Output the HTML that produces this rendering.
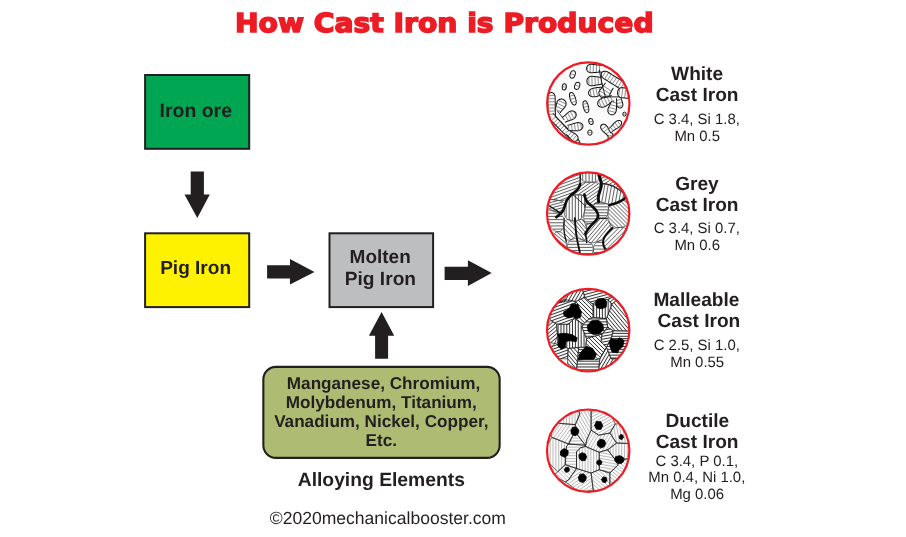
<!DOCTYPE html>
<html lang="en">
<head>
<meta charset="utf-8">
<title>How Cast Iron is Produced</title>
<style>
html,body{margin:0;padding:0;background:#fff;}
body{width:906px;height:537px;overflow:hidden;}
svg{display:block;will-change:transform;}
text{font-family:"Liberation Sans",sans-serif;fill:#231f20;text-rendering:geometricPrecision;}
.b{font-weight:bold;}
.t{font-family:"DejaVu Sans","Liberation Sans",sans-serif;font-weight:bold;fill:#ed1c24;stroke:#ed1c24;stroke-width:1.5px;stroke-linejoin:miter;}
.box{stroke:#231f20;stroke-width:2;}
.ar{fill:#231f20;}
.ring{fill:none;stroke:#ed1c24;stroke-width:2.2;}
</style>
</head>
<body>
<svg width="906" height="537" viewBox="0 0 906 537">
<rect width="906" height="537" fill="#fff"/>

<defs>
<filter id="soft" x="-5%" y="-5%" width="110%" height="110%"><feGaussianBlur stdDeviation="0.38"/></filter>
<clipPath id="cp1"><circle cx="588.3" cy="103.5" r="41.2"/></clipPath>
<clipPath id="cp2"><circle cx="588.2" cy="213.5" r="41.2"/></clipPath>
<clipPath id="cp3"><circle cx="588.2" cy="330.1" r="41.2"/></clipPath>
<clipPath id="cp4"><circle cx="588.2" cy="450.7" r="41.2"/></clipPath>
</defs>

<!-- title -->
<text class="t" x="444.3" y="31.7" font-size="26.2" text-anchor="middle" textLength="418.6" lengthAdjust="spacingAndGlyphs">How Cast Iron is Produced</text>

<!-- boxes -->
<rect class="box" x="145.1" y="75" width="104.1" height="73.8" fill="#00a651"/>
<text class="b" x="195.8" y="117.35" font-size="19.45" text-anchor="middle">Iron ore</text>

<rect class="box" x="145.1" y="233.3" width="104.1" height="73.8" fill="#fff200"/>
<text class="b" x="195.6" y="274.45" font-size="19.05" text-anchor="middle">Pig Iron</text>

<rect class="box" x="329.5" y="233.3" width="103.6" height="73.8" fill="#bcbec0"/>
<text class="b" x="380.2" y="263.2" font-size="19" text-anchor="middle">Molten</text>
<text class="b" x="380.4" y="284.6" font-size="19.15" text-anchor="middle">Pig Iron</text>

<rect class="box" x="263.35" y="366.85" width="236.3" height="91.05" rx="12.6" ry="12.6" fill="#adbc72" style="stroke-width:2.1"/>
<text class="b" x="383.5" y="389.3" font-size="17.15" text-anchor="middle">Manganese, Chromium,</text>
<text class="b" x="381.3" y="407.7" font-size="17.15" text-anchor="middle">Molybdenum, Titanium,</text>
<text class="b" x="381.3" y="426.6" font-size="17.15" text-anchor="middle">Vanadium, Nickel, Copper,</text>
<text class="b" x="381.3" y="446.1" font-size="17.15" text-anchor="middle">Etc.</text>

<text class="b" x="381.3" y="486.3" font-size="19.3" text-anchor="middle">Alloying Elements</text>
<text x="387.85" y="524.4" font-size="17.55" text-anchor="middle">©2020mechanicalbooster.com</text>

<!-- arrows -->
<polygon class="ar" points="190.7,171.5 203.9,171.5 203.9,194.6 209.8,194.6 197.3,217.9 184.5,194.6 190.7,194.6"/>
<polygon class="ar" points="267.1,265.2 290,265.2 290,259.1 314.5,271.9 290,284.6 290,278.4 267.1,278.4"/>
<polygon class="ar" points="444.6,266.7 467.9,266.7 467.9,260.2 491.7,273.1 467.9,285.9 467.9,279.9 444.6,279.9"/>
<polygon class="ar" points="381.6,312.1 394.2,335.7 388.1,335.7 388.1,358.8 375.1,358.8 375.1,335.7 368.9,335.7"/>

<!-- circles -->
<g id="c1"><g clip-path="url(#cp1)"><g filter="url(#soft)"><g transform="translate(543 58) scale(0.16760)"><rect width="537" height="537" fill="#fbfbfb"/><g transform="translate(177 98) rotate(18)"><ellipse rx="15" ry="23" fill="#fdfdfd" stroke="#101010" stroke-width="5.8"/><line x1="-14" y1="0" x2="14" y2="0" stroke="#4c4c4c" stroke-width="3.4"/></g><g transform="translate(127 172) rotate(8)"><ellipse rx="12" ry="19" fill="#fdfdfd" stroke="#101010" stroke-width="5.8"/><line x1="-11" y1="0" x2="11" y2="0" stroke="#4c4c4c" stroke-width="3.4"/></g><g transform="translate(204 166) rotate(18)"><ellipse rx="15" ry="22" fill="#fdfdfd" stroke="#101010" stroke-width="5.8"/><line x1="-14" y1="0" x2="14" y2="0" stroke="#4c4c4c" stroke-width="3.4"/></g><g transform="translate(178 243) rotate(-18)"><ellipse rx="16" ry="39" fill="#fdfdfd" stroke="#101010" stroke-width="5.8"/><line x1="-12.9" y1="-19.5" x2="12.9" y2="-19.5" stroke="#4c4c4c" stroke-width="3.4"/><line x1="-15" y1="0" x2="15" y2="0" stroke="#4c4c4c" stroke-width="3.4"/><line x1="-12.9" y1="19.5" x2="12.9" y2="19.5" stroke="#4c4c4c" stroke-width="3.4"/></g><g transform="translate(256 291) rotate(-14)"><ellipse rx="15" ry="36" fill="#fdfdfd" stroke="#101010" stroke-width="5.8"/><line x1="-12" y1="-18" x2="12" y2="-18" stroke="#4c4c4c" stroke-width="3.4"/><line x1="-14" y1="0" x2="14" y2="0" stroke="#4c4c4c" stroke-width="3.4"/><line x1="-12" y1="18" x2="12" y2="18" stroke="#4c4c4c" stroke-width="3.4"/></g><g transform="translate(286 379) rotate(-12)"><ellipse rx="13" ry="18" fill="#fdfdfd" stroke="#101010" stroke-width="5.8"/><line x1="-12" y1="0" x2="12" y2="0" stroke="#4c4c4c" stroke-width="3.4"/></g><g transform="translate(280 445) rotate(0)"><ellipse rx="13" ry="16" fill="#fdfdfd" stroke="#101010" stroke-width="5.8"/><line x1="-12" y1="0" x2="12" y2="0" stroke="#4c4c4c" stroke-width="3.4"/></g><g transform="translate(486 335) rotate(0)"><ellipse rx="10" ry="12" fill="#fdfdfd" stroke="#101010" stroke-width="5.8"/><line x1="-9" y1="0" x2="9" y2="0" stroke="#4c4c4c" stroke-width="3.4"/></g><path d="M517.8,219.5L505,211.5L492.1,203.5L479.3,195.5L466.4,187.5L453.6,179.5L440.7,171.5L427.8,163.5L415,155.5L402.1,147.5L389.3,139.5L376.4,131.5L364.8,124.3L363.6,123.5L359.8,120.7L355.4,116.4L352.5,112.6L351.9,111.7L349.3,106.7L347.8,101.7L347.4,96.8L348.1,92.1L350,88L352.9,84.5L356.7,81.8L361.3,80L366.5,79.1L372.1,79.2L373.2,79.4L377.9,80.3L383.7,82.4L387.9,84.5L389.2,85.3L400.7,92.5L413.6,100.5L426.4,108.5L439.3,116.5L452.2,124.5L465,132.5L477.9,140.5L490.7,148.5L503.6,156.5L516.4,164.5L529.3,172.5L542.2,180.5" fill="#fdfdfd" stroke="#101010" stroke-width="6" stroke-linejoin="round" stroke-linecap="round"/><path d="M354.3,112.5L373.9,81M368.4,124.8L391.1,88.3M384.1,134.6L406.8,98M399.8,144.3L422.6,107.8M415.5,154.1L438.3,117.6M431.2,163.9L454,127.4M447,173.7L469.7,137.1M462.7,183.4L485.4,146.9M478.4,193.2L501.1,156.7M494.1,203L516.8,166.5M509.8,212.7L532.5,176.2" fill="none" stroke="#4c4c4c" stroke-width="3.8"/><path d="M526.1,242.7L520,241.9L513.9,241.2L507.8,240.6L501.7,240L495.6,239.5L489.5,238.9L483.4,238.3L477.3,237.7L471.2,237L466.3,236.3L465.1,236.1L461.4,235L459.2,234L456.9,232.7L453.6,230L452.8,229.3L449.5,225.1L448.4,223.1L447,220.1L445.3,214.6L444.7,208.9L445,203L446.3,197.3L448.5,191.9L451.6,187.1L453.8,184.6L455.4,183L459.8,179.9L460.7,179.4L464.6,177.8L467.2,177.1L469.6,176.8L473.5,176.8L474.7,176.9L479.5,177.6L485.6,178.6L491.6,179.7L497.7,180.8L503.7,182L509.7,183.1L515.8,184.3L521.8,185.3L527.9,186.4L533.9,187.3" fill="#fdfdfd" stroke="#101010" stroke-width="6" stroke-linejoin="round" stroke-linecap="round"/><path d="M451.4,225.1L457.3,183.6M468.7,235.1L476.6,178.7M487.1,237.2L494.9,181.8M505.5,238.9L513.1,185.3M523.9,240.9L531.3,188.4" fill="none" stroke="#4c4c4c" stroke-width="3.8"/><path d="M347.5,84L341.3,84L335,84.2L328.7,84.7L322.4,85.2L316.1,85.9L309.8,86.5L303.5,87L297.2,87.4L290.9,87.6L285.8,87.6L284.6,87.5L280.7,87L278.3,86.4L275.8,85.5L272.1,83.6L271.3,83L267.3,79.8L265.9,78.3L264.1,76L261.8,71.6L260.4,66.9L260,62L260.6,57.1L262.2,52.5L264.8,48.2L266.7,46L268.1,44.5L272.2,41.5L273.1,41L276.8,39.3L279.4,38.5L281.8,38L285.7,37.6L287,37.6L292,37.8L298.3,38.3L304.5,39L310.8,39.8L317.1,40.7L323.4,41.6L329.6,42.5L335.9,43.2L342.2,43.7L348.5,44" fill="#fdfdfd" stroke="#101010" stroke-width="6" stroke-linejoin="round" stroke-linecap="round"/><path d="M262.9,70L263.2,54.1M281,85.5L282.1,39.5M299.5,85.8L300.6,40.1M318.1,84.2L319,42.5M336.6,82.7L337.5,44.8" fill="none" stroke="#4c4c4c" stroke-width="3.8"/><path d="M352.5,157L346,157.3L339.6,158L333.2,159L326.8,160.1L320.4,161.3L314,162.5L307.6,163.6L301.2,164.5L294.8,165.1L289.6,165.4L288.3,165.4L284.3,165L281.9,164.4L279.2,163.5L275.4,161.6L274.5,161L270.3,157.6L268.8,156L266.9,153.5L264.3,148.7L262.6,143.4L262,138L262.4,132.5L263.8,127.2L266.2,122.3L268,119.7L269.5,118L273.5,114.5L274.3,113.9L278.1,111.8L280.7,110.7L283.1,110.1L287.1,109.5L288.4,109.4L293.5,109.4L300,109.8L306.4,110.4L312.9,111.2L319.3,112.1L325.8,113L332.2,113.9L338.7,114.5L345.1,114.9L351.5,115" fill="#fdfdfd" stroke="#101010" stroke-width="6" stroke-linejoin="round" stroke-linecap="round"/><path d="M274.4,159L273.4,116.5M293,163.7L291.8,110.9M311.4,161.4L310.4,112.4M329.9,158.1L328.9,115M348.3,155.7L347.5,116.5" fill="none" stroke="#4c4c4c" stroke-width="3.8"/><path d="M388.8,209.6L380.8,211.4L372.8,213.4L364.9,215.7L357,218.1L349.1,220.5L341.2,223L333.2,225.4L325.3,227.6L317.3,229.6L310.9,230.9L309.2,231.2L304.2,231.7L301,231.7L297.5,231.5L292.4,230.6L291.2,230.3L285.4,228.1L283.3,227L280.5,225.1L276.5,221.3L273.6,216.9L272,212L272,212L272,212L271.7,206.9L272.7,201.7L275,196.7L276.9,193.9L278.4,192L282.9,187.8L283.9,187.1L288.3,184.3L291.5,182.8L294.4,181.7L299.3,180.2L300.9,179.9L307.4,178.7L315.6,177.6L323.8,176.6L332,175.9L340.2,175.2L348.5,174.5L356.7,173.8L364.9,172.9L373.1,171.8L381.2,170.4" fill="#fdfdfd" stroke="#101010" stroke-width="6" stroke-linejoin="round" stroke-linecap="round"/><path d="M287.5,227.3L280.6,192M306.9,229.9L297.6,182.3M325,226.1L315.8,179.1M342.8,220.9L334.3,177.2M360.6,215.4L352.8,175.6M378.5,210.4L371.3,173.5" fill="none" stroke="#4c4c4c" stroke-width="3.8"/><path d="M418.6,180.1L415.4,185.2L412.5,190.4L409.7,195.6L406.9,200.9L404.2,206.3L401.5,211.6L398.8,216.9L395.9,222.1L392.9,227.3L390.4,231.3L389.7,232.3L387.3,235.1L385.4,236.6L383.2,238L379.4,239.7L378.4,240.1L373,241.1L370.6,241.2L367.2,241.1L361.3,240L355.5,238L350,235L345,231.2L340.7,226.8L337.3,221.8L335.8,218.8L334.9,216.6L333.6,211.3L333.5,210.3L333.5,206L333.8,203.4L334.5,201.1L336,197.7L336.6,196.7L339.2,192.7L342.7,187.9L346.2,183.1L349.9,178.4L353.6,173.7L357.4,169.1L361.1,164.4L364.7,159.6L368.1,154.8L371.4,149.9" fill="#fdfdfd" stroke="#101010" stroke-width="6" stroke-linejoin="round" stroke-linecap="round"/><path d="M372.2,239.6L336.6,216.7M390,229.1L338.8,196.1M399.1,212.9L349.7,181.1M407.6,196.4L361.2,166.6" fill="none" stroke="#4c4c4c" stroke-width="3.8"/><path d="M422.5,256.4L416.4,259.5L410.5,263L404.7,266.8L399,270.8L393.4,274.8L387.7,278.8L381.9,282.6L376,286.2L369.9,289.3L369.3,289.6L363.5,291.8L363.2,291.9L356.8,293.2L356.7,293.2L350.6,293.4L349.2,293.3L344.6,292.6L340.8,291.4L339.2,290.8L334.5,288L330.7,284.3L328,280L326.5,275.1L326.2,269.9L327.1,264.5L327.6,262.8L329.2,259.2L331.7,255.2L332.5,254.1L336.6,249.7L336.8,249.5L341.9,245.6L342.2,245.4L347.6,242.4L348.2,242.1L354.6,239.5L361.1,237.4L367.8,235.5L374.5,233.8L381.3,232.1L388,230.4L394.6,228.5L401.2,226.3L407.5,223.6" fill="#fdfdfd" stroke="#101010" stroke-width="6" stroke-linejoin="round" stroke-linecap="round"/><path d="M348.6,291.7L332.5,256.7M367.6,288.7L347.2,244.3M383.8,279.6L364.6,237.9M399.2,268.8L382.8,233.2M414.8,258.6L400.7,228" fill="none" stroke="#4c4c4c" stroke-width="3.8"/><path d="M441.4,266.3L440.3,271.8L439.5,277.4L439.1,283.1L438.9,288.9L438.7,294.6L438.5,300.4L438.1,306.1L437.4,311.7L436.3,317.2L436.2,317.8L434.5,322.5L434.3,322.8L431.7,327.5L431.6,327.6L428.2,331.5L427.3,332.3L424.1,334.7L421.1,336.4L419.6,337.1L414.8,338.4L409.9,338.7L405,338L400.4,336.2L396.3,333.5L392.7,330L391.8,328.7L390,325.7L388.4,322L388,320.9L387,315.8L387,315.7L386.9,310.3L386.9,310L387.8,305L388,304.5L389.7,299.1L391.9,293.9L394.3,288.8L397,283.6L399.7,278.6L402.3,273.4L404.7,268.3L406.9,263L408.6,257.7" fill="#fdfdfd" stroke="#101010" stroke-width="6" stroke-linejoin="round" stroke-linecap="round"/><path d="M431.6,324.6L388.5,313.2M436.5,306.7L392.9,295.3M437.4,287.9L401.4,278.4M439.3,269.2L409,261.2" fill="none" stroke="#4c4c4c" stroke-width="3.8"/><path d="M465.8,237.6L466.6,241.7L467.7,245.8L468.9,249.9L470.3,253.9L471.6,257.9L473,262L474.2,266L475.3,270.1L476.2,274.2L476.2,274.6L476.6,278.4L476.6,278.7L476.2,282.6L476.2,282.8L475.2,286.4L474.9,287.2L473.5,289.9L472,292L471.3,292.9L468.5,295.3L465.4,297L462,298L458.5,298.2L454.9,297.6L451.6,296.3L450.5,295.7L448.4,294.2L446.3,292.2L445.7,291.5L443.5,288.4L443.5,288.3L441.8,284.7L441.7,284.4L440.8,280.8L440.7,280.3L440.1,276.2L439.8,272L439.6,267.7L439.5,263.5L439.4,259.2L439.3,255L439.1,250.7L438.8,246.5L438.2,242.4" fill="#fdfdfd" stroke="#101010" stroke-width="6" stroke-linejoin="round" stroke-linecap="round"/><path d="M474.3,284.2L445.8,289.1M472.5,265.7L441.3,271.1M466.8,247.9L440.7,252.4" fill="none" stroke="#4c4c4c" stroke-width="3.8"/><path d="M336,73L352,153M359,232L455,232M352,153L372,232" fill="none" stroke="#101010" stroke-width="5.5" stroke-linecap="round"/><path d="M12.7,287.3L28.4,303L44.2,318.7L59.9,334.4L75.6,350.1L91.3,365.8L107,381.6L122.7,397.3L138.4,413L154.2,428.7L169.9,444.4L185.6,460.1L199.7,474.3L201.3,475.9L205.9,481L211.4,487.9L215.1,493.4L215.9,494.8L219.3,501.3L221.5,507.4L222.4,512.6L221.8,516.9L220,520L220,520L220,520L216.9,521.8L212.6,522.4L207.4,521.5L201.3,519.3L194.8,515.9L193.4,515.1L187.9,511.4L181,505.9L175.9,501.3L174.3,499.7L160.1,485.6L144.4,469.9L128.7,454.2L113,438.4L97.3,422.7L81.6,407L65.8,391.3L50.1,375.6L34.4,359.9L18.7,344.2L3,328.4L-12.7,312.7" fill="#fdfdfd" stroke="#101010" stroke-width="6" stroke-linejoin="round" stroke-linecap="round"/><path d="M215.8,497.7L197.7,515.8M205,482.3L182.3,505M192.2,468.9L168.9,492.2M179.2,455.8L155.8,479.2M166.1,442.7L142.7,466.1M153,429.7L129.7,453M139.9,416.6L116.6,439.9M126.8,403.5L103.5,426.8M113.7,390.4L90.4,413.7M100.7,377.3L77.3,400.7M87.6,364.2L64.2,387.6M74.5,351.2L51.2,374.5M61.4,338.1L38.1,361.4M48.3,325L25,348.3M35.3,311.9L11.9,335.3M22.2,298.8L-1.2,322.2" fill="none" stroke="#4c4c4c" stroke-width="3.8"/><path d="M30,350.3L29.9,340L29.7,329.7L29.6,319.4L29.4,309.2L29.3,298.9L29.1,288.6L29,278.3L28.9,268L28.7,257.7L28.6,247.4L28.4,237.2L28.4,235.1L28.7,229.5L29.2,226.9L29.9,224.1L31.9,219.1L33.3,216.5L34.6,214.7L37.8,211L41.6,208.3L45.7,206.6L50,206L54.3,206.5L58.4,208.1L62.3,210.7L65.7,214.2L67,216.1L68.5,218.5L70.6,223.5L71.4,226.3L71.9,228.9L72.4,234.5L72.4,236.6L72.6,246.8L72.7,257.1L72.9,267.4L73,277.7L73.1,288L73.3,298.3L73.4,308.6L73.6,318.8L73.7,329.1L73.9,339.4L74,349.7" fill="#fdfdfd" stroke="#101010" stroke-width="6" stroke-linejoin="round" stroke-linecap="round"/><path d="M31.3,224.7L69.2,224.1M30,243.2L71,242.6M30.3,261.7L71.3,261.1M30.5,280.2L71.5,279.6M30.8,298.7L71.8,298.1M31,317.2L72,316.6M31.3,335.7L72.3,335.1" fill="none" stroke="#4c4c4c" stroke-width="3.8"/><path d="M71.8,310.1L73.9,305L75.6,299.6L76.8,294L77.8,288.3L78.8,282.6L79.8,276.9L81,271.4L82.6,265.9L84.7,260.8L84.9,260.3L87.5,256L87.7,255.7L91.4,251.8L91.5,251.7L95.8,248.7L96.8,248.1L100.7,246.5L104.3,245.6L106,245.3L111.5,245.2L116.9,246.1L122,248L126.7,250.9L130.7,254.5L134,258.9L134.8,260.4L136.3,263.8L137.4,267.9L137.7,269.1L137.9,274.3L137.9,274.4L137.1,279.7L137,280L135.3,284.7L135,285.2L132.3,290.1L129,294.6L125.3,299.1L121.5,303.4L117.6,307.7L113.8,312L110.2,316.4L106.9,321L104.2,325.9" fill="#fdfdfd" stroke="#101010" stroke-width="6" stroke-linejoin="round" stroke-linecap="round"/><path d="M92.3,253L136.4,274.4M83.2,269.2L129.3,291.6M79.4,287.9L117,306.1M75,306.3L105.2,321" fill="none" stroke="#4c4c4c" stroke-width="3.8"/><path d="M116.4,353.3L121.3,350.2L125.9,346.6L130.4,342.8L134.8,338.8L139.1,334.7L143.5,330.7L147.9,326.9L152.5,323.3L157.4,320.1L157.9,319.8L162.6,317.5L162.9,317.4L168.2,315.9L168.4,315.9L173.6,315.4L174.8,315.5L178.9,315.9L182.4,316.9L183.9,317.4L188.3,319.8L192.1,323.1L195,327L197,331.5L198,336.3L197.9,341.4L197.6,343L196.8,346.5L195.2,350.2L194.6,351.3L191.6,355.7L191.5,355.8L187.7,359.7L187.4,359.9L183.1,362.9L182.6,363.2L177.5,365.9L172.1,368.1L166.5,370.1L160.9,372L155.2,373.8L149.6,375.6L144.1,377.7L138.7,380L133.6,382.7" fill="#fdfdfd" stroke="#101010" stroke-width="6" stroke-linejoin="round" stroke-linecap="round"/><path d="M183.6,319L196.4,340.9M162.3,319.3L185.7,359.3M146.9,329.7L169.2,367.6M133,342.4L151.2,373.5" fill="none" stroke="#4c4c4c" stroke-width="3.8"/><path d="M147.5,401.2L153.8,400L160,398.5L166.1,396.6L172.2,394.6L178.4,392.6L184.5,390.5L190.6,388.7L196.8,387.1L203.1,385.9L203.7,385.8L209.4,385.4L209.8,385.4L215.7,385.9L215.9,385.9L221.4,387.3L222.6,387.7L226.5,389.5L229.6,391.6L230.9,392.6L234.3,396.3L236.7,400.5L238,405L238.1,409.7L237,414.4L234.8,419L233.8,420.3L231.5,423.1L228.3,426L227.2,426.8L222.4,429.7L222.2,429.7L216.6,431.9L216.3,432.1L210.7,433.3L210.1,433.4L203.8,434L197.4,434.3L190.9,434.3L184.5,434.1L178,433.9L171.6,433.8L165.2,433.8L158.8,434.1L152.5,434.8" fill="#fdfdfd" stroke="#101010" stroke-width="6" stroke-linejoin="round" stroke-linecap="round"/><path d="M224.8,390.4L229.6,422.8M205.6,387.2L212.1,431.4M187.5,391.2L193.6,432.8M169.6,397.1L174.9,432.4M151.7,401.9L156.2,432.9" fill="none" stroke="#4c4c4c" stroke-width="3.8"/><path d="M160.1,432.6L164.2,435.7L168.4,438.6L172.7,441.3L177.1,443.9L181.6,446.5L186,449.1L190.4,451.8L194.6,454.6L198.7,457.7L199,458L202.4,461.2L202.5,461.4L205.4,465.3L205.5,465.4L207.5,469.5L207.9,470.5L208.8,473.9L209.1,476.9L209.1,478.3L208.6,482.6L207.2,486.5L205,490L202,492.9L198.4,495L194.4,496.4L193,496.6L190,496.9L186.4,496.7L185.4,496.5L181,495.3L180.8,495.3L176.5,493.3L176.2,493.1L172.5,490.5L172.1,490.2L168.3,486.8L164.6,483.2L161.1,479.5L157.7,475.7L154.3,471.8L150.8,468L147.3,464.3L143.7,460.7L139.9,457.4" fill="#fdfdfd" stroke="#101010" stroke-width="6" stroke-linejoin="round" stroke-linecap="round"/><path d="M207.2,482L197.6,493.7M200.3,461.3L175.9,491.1M185.3,450.4L162.3,478.5M169.2,440.8L149.7,464.6" fill="none" stroke="#4c4c4c" stroke-width="3.8"/><path d="M60,330L150,430M88,318L125,368" fill="none" stroke="#101010" stroke-width="5" stroke-linecap="round"/><path d="M395.1,522L394.4,516.6L393.7,511.3L393,505.9L392.3,500.6L391.6,495.2L390.8,489.8L390.1,484.5L389.4,479.1L388.7,473.8L388,468.4L387.3,463.1L387.1,462L387,459L387.2,457.6L387.5,456.1L388.5,453.3L389.3,451.9L390.1,450.8L392.1,448.6L394.5,446.9L397.1,445.7L400,445L402.9,444.9L405.8,445.4L408.6,446.4L411.1,448L412.1,448.8L413.3,450L415,452.4L415.7,453.8L416.2,455.1L416.9,458L417,459.1L417.7,464.4L418.4,469.8L419.2,475.2L419.9,480.5L420.6,485.9L421.3,491.2L422,496.6L422.7,501.9L423.4,507.3L424.2,512.7L424.9,518" fill="#fdfdfd" stroke="#101010" stroke-width="6" stroke-linejoin="round" stroke-linecap="round"/><path d="M389.2,466.3L416,462.7M391.7,484.6L418.4,481.1M394.1,503L420.9,499.4" fill="none" stroke="#4c4c4c" stroke-width="3.8"/><path d="M384.8,463.1L381.4,459.1L377.8,455.4L374,451.8L370,448.3L366,444.8L362.1,441.3L358.2,437.8L354.6,434.1L351.2,430.1L350.8,429.7L348.2,425.9L348.1,425.6L345.9,421.2L345.9,421.1L344.6,416.7L344.4,415.6L344.1,412.2L344.2,409.2L344.4,407.9L345.5,404L347.4,400.7L350,398L353.2,396.1L356.9,395L360.9,394.8L362.2,394.9L365.2,395.5L368.4,396.7L369.4,397.1L373.4,399.4L373.5,399.4L377.3,402.5L377.5,402.7L380.7,406.2L381,406.6L384,410.8L386.8,415.2L389.4,419.8L391.8,424.5L394.3,429.1L396.8,433.8L399.4,438.3L402.1,442.7L405.2,446.9" fill="#fdfdfd" stroke="#101010" stroke-width="6" stroke-linejoin="round" stroke-linecap="round"/><path d="M346.1,407.2L359.8,396.4M350.8,427L378.1,405.5M363.5,440.6L388.3,421M377.5,453.1L397.2,437.6" fill="none" stroke="#4c4c4c" stroke-width="3.8"/><path d="M396.8,417.9L401,414.2L405,410.2L408.9,406.1L412.6,401.8L416.4,397.4L420.1,393.1L424,388.9L428,384.9L432.2,381.2L432.6,380.8L436.7,377.8L437,377.7L441.7,375.2L441.8,375.2L446.5,373.6L447.6,373.3L451.2,372.7L454.4,372.7L455.7,372.8L459.8,373.7L463.2,375.5L466,378L467.9,381.2L469,385L469.1,389.1L468.9,390.5L468.3,393.5L467,397L466.5,398L464,402.3L463.9,402.4L460.6,406.5L460.4,406.7L456.7,410.2L456.3,410.5L451.7,413.9L447,417.1L442.2,420L437.2,422.9L432.2,425.7L427.3,428.5L422.4,431.5L417.7,434.6L413.2,438.1" fill="#fdfdfd" stroke="#101010" stroke-width="6" stroke-linejoin="round" stroke-linecap="round"/><path d="M443.8,376.1L463.5,400.2M428.5,386.6L450.2,413.1M415.8,400.3L434.2,422.8M403.2,414.1L418.3,432.5" fill="none" stroke="#4c4c4c" stroke-width="3.8"/></g></g></g><circle class="ring" cx="588.3" cy="103.5" r="41.2"/></g>
<g id="c2"><g clip-path="url(#cp2)"><g filter="url(#soft)"><g transform="translate(543 168) scale(0.16760)"><rect width="537" height="537" fill="#fafafa"/><path d="M121.8,73.4L216.9,38.8M87.5,104.5L219.5,56.4M66.7,130.7L219.3,75.1M52,154.7L218.8,93.9M41.4,177.1L210.1,115.7M65.7,186.9L180.2,145.2M103.5,191.8L151.7,174.2M333,33.7L333,71.3M313.8,27.8L313.8,79.5M294.5,25.1L294.5,82M275.2,24L275.2,82.1M256,25L256,80M236.7,31.7L236.8,73.3M218.6,112.2L252,88.9M183,157.5L282.9,87.5M212,157.5L309.6,89.2M236.1,160.9L330.5,94.8M250.5,171.1L339.9,108.5M256.9,186.9L336.5,131.2M265.6,201.1L329.3,156.6M278.2,212.6L325.7,179.3M302.6,215.8L321.1,202.8M248.3,177.5L248.3,238.9M229.9,164.2L229.9,296.1M211.5,162.5L211.5,308.5M193.2,162.5L193.2,312.2M174.8,162.5L174.8,311.2M156.4,176.5L156.4,306.5M138,202.7L138,294.6M257.2,215.9L274,215.9M254.3,233.4L294,233.4M251.3,250.9L309.9,250.9M248.3,268.4L321,268.4M245.9,285.9L324.3,285.9M245.5,303.4L317.8,303.4M249.8,320.9L300.7,320.9M35.9,191.8L43.9,189.7M30.5,209.9L86.2,195M26.6,227.6L116.1,203.7M38.9,241L127.3,217.3M59.6,252.1L124,234.9M88.2,261.1L115.7,253.8M22.7,270L87.8,270M23.3,288.9L115.5,288.9M25.4,307.8L121.2,307.8M33.3,326.7L121.8,326.7M44,345.6L120.1,345.6M59.5,364.5L113.9,364.5M332.6,188.7L342.6,132.4M350.7,202L368.9,99.1M370,208.6L389.2,99.5M389.7,212.5L408.9,104.1M410,213.4L427.8,112.6M431,210.4L446,125.1M452.6,203.7L463.7,140.6M475.4,190.1L480.7,160.3M348.9,42.6L355.2,38.9M347.6,63.5L375.6,47.4M349.1,82.9L394,57M368.6,91.8L410.7,67.5M396.9,95.7L425.9,78.9M419.5,102.9L439.9,91.1M437.4,112.7L452.6,104M452.8,124L464.2,117.5M468.4,135.2L474.6,131.7M483.6,193.3L501.7,211.5M468,201.7L516.8,250.6M451.7,209.4L517.8,275.6M433.3,215L516.4,298.2M414.1,219.9L513.3,319.1M397.8,227.6L504.1,333.9M392.3,246.1L490.3,344.1M390,267.8L472.3,350.1M390.6,292.4L450.6,352.4M399.5,325.3L422.6,348.4M316.2,214.3L370.7,214.3M305,231.8L390.1,231.8M315,249.3L386.8,249.3M325.7,266.8L385.1,266.8M329.7,284.3L380.7,284.3M159.6,313L190.2,343.6M134.8,315.5L193.5,374.1M126.9,334.8L192,399.9M125.2,360.3L180.8,416M127.6,389.9L163.4,425.7M233.7,309L243.9,321.1M215.1,312.7L260.6,366.9M200.3,321L254.8,385.8M194.8,340.3L253.3,410M198.1,370L247.1,428.5M159.1,437L248.9,437M149.1,455.4L290.1,455.4M147,473.8L296.3,473.8M158,492.2L297.1,492.2M205.7,510.5L289.7,510.5M259.3,344.7L266.7,335.9M265.6,364.4L293.9,330.7M257.9,400.8L338.9,304.2M261.1,424.2L362.7,303.1M271.8,438.6L380,309.7M290.3,443.8L391.9,322.7M316.4,439.9L399.9,340.4M356,420L368.5,405M84,383.3L131.3,423M69.8,392.4L137.2,449M64.2,408.8L141,473.2M369.3,413.7L417.2,365.8M361.7,448L451.6,358.1M367.2,469.3L478.8,357.7M380.8,482.4L495.5,367.7M425.5,464.4L463.2,426.7M323.9,443.8L356.5,443.8M307.1,463.9L359.3,463.9M302.9,484.1L374.8,484.1M305.7,504.2L354.9,504.2" fill="none" stroke="#505050" stroke-width="5.3"/><path d="M30,187.5Q20,190 40,140Q60,90 105,55Q150,20 186,20Q222,20 222,52.5Q222,85 221,99Q220,113 193.5,136.5Q167,160 150,180Q133,200 86.5,192.5Q40,185 30,187.5ZM222,52.5Q222,20 283.5,20Q345,20 345,52.5Q345,85 283.5,85Q222,85 222,52.5ZM221,99Q222,85 283.5,85Q345,85 342.5,109Q340,133 333,153Q326,173 329,186.5Q332,200 312.5,213.5Q293,227 275,213.5Q257,200 252,180Q247,160 213.5,160Q180,160 173.5,160Q167,160 193.5,136.5Q220,113 221,99ZM173.5,160Q180,160 213.5,160Q247,160 252,180Q257,200 255,213.5Q253,227 246.5,263.5Q240,300 215,310Q190,320 158.5,310Q127,300 127,270Q127,240 130,220Q133,200 150,180Q167,160 173.5,160ZM246.5,263.5Q253,227 255,213.5Q257,200 275,213.5Q293,227 310,247Q327,267 327,283.5Q327,300 310,316.5Q293,333 271.5,333Q250,333 245,316.5Q240,300 246.5,263.5ZM20,215Q20,190 30,187.5Q40,185 86.5,192.5Q133,200 130,220Q127,240 117,256.5Q107,273 63.5,256.5Q20,240 20,215ZM15,270Q15,240 61,256.5Q107,273 117,286.5Q127,300 123.5,340Q120,380 90,380Q60,380 37.5,340Q15,300 15,270ZM346,113Q352,93 386,96.5Q420,100 450,125Q480,150 486,165Q492,180 475.5,193.5Q459,207 429,213.5Q399,220 365.5,210Q332,200 329,186.5Q326,173 333,153Q340,133 346,113ZM345,52.5Q345,20 382.5,30Q420,40 460,85Q500,130 490,140Q480,150 450,125Q420,100 386,96.5Q352,93 348.5,89Q345,85 345,52.5ZM394.5,227.5Q399,220 429,213.5Q459,207 475.5,193.5Q492,180 511,225Q530,270 520,310Q510,350 461,354.5Q412,359 398.5,329.5Q385,300 387.5,267.5Q390,235 394.5,227.5ZM312.5,213.5Q332,200 365.5,210Q399,220 394.5,227.5Q390,235 387.5,267.5Q385,300 356,300Q327,300 327,283.5Q327,267 310,247Q293,227 312.5,213.5ZM123.5,340Q127,300 158.5,310Q190,320 191.5,333Q193,346 196.5,379Q200,412 170,426Q140,440 130,410Q120,380 123.5,340ZM191.5,333Q190,320 215,310Q240,300 245,316.5Q250,333 258.5,349.5Q267,366 260,379Q253,392 256.5,416Q260,440 230,426Q200,412 196.5,379Q193,346 191.5,333ZM145,485Q140,440 170,426Q200,412 230,426Q260,440 280,445Q300,450 300,490Q300,530 225,530Q150,530 145,485ZM271.5,333Q293,333 310,316.5Q327,300 356,300Q385,300 398.5,329.5Q412,359 395.5,375.5Q379,392 369,409Q359,426 329.5,438Q300,450 280,445Q260,440 256.5,416Q253,392 260,379Q267,366 258.5,349.5Q250,333 271.5,333ZM60,425Q60,380 90,380Q120,380 130,410Q140,440 145,485Q150,530 105,500Q60,470 60,425ZM395.5,375.5Q412,359 461,354.5Q510,350 500,395Q490,440 455,475Q420,510 394.5,494.5Q369,479 364,469Q359,459 359,442.5Q359,426 369,409Q379,392 395.5,375.5ZM300,490Q300,450 329.5,438Q359,426 359,442.5Q359,459 364,469Q369,479 394.5,494.5Q420,510 360,520Q300,530 300,490Z" fill="none" stroke="#2a2a2a" stroke-width="3.6" stroke-linejoin="round"/><path d="M222,98Q215,125 191,142.5Q167,160 152.5,177.5Q138,195 132.5,217.5Q127,240 118.5,255Q110,270 80,293" fill="none" stroke="#0c0c0c" stroke-width="16" stroke-linecap="round" stroke-linejoin="round"/><path d="M247,158Q254,198 273.5,212.5Q293,227 310,244.5Q327,262 328.5,281Q330,300 313.5,316.5Q297,333 283.5,346.5Q270,360 253,392" fill="none" stroke="#0c0c0c" stroke-width="16" stroke-linecap="round" stroke-linejoin="round"/><path d="M333,42Q352,90 347,111.5Q342,133 334,153Q326,173 332,202" fill="none" stroke="#0c0c0c" stroke-width="18" stroke-linecap="round" stroke-linejoin="round"/><path d="M395,222Q459,207 495,176" fill="none" stroke="#0c0c0c" stroke-width="14" stroke-linecap="round" stroke-linejoin="round"/><path d="M190,299Q193,346 196.5,379Q200,412 206.5,442Q213,472 220,505" fill="none" stroke="#0c0c0c" stroke-width="11" stroke-linecap="round" stroke-linejoin="round"/><path d="M415,357Q379,392 369,409Q359,426 358.5,442.5Q358,459 370,482" fill="none" stroke="#0c0c0c" stroke-width="12" stroke-linecap="round" stroke-linejoin="round"/><path d="M40,228Q80,250 107,273" fill="none" stroke="#0c0c0c" stroke-width="8" stroke-linecap="round" stroke-linejoin="round"/><path d="M253,392Q262,420 260,445" fill="none" stroke="#0c0c0c" stroke-width="8" stroke-linecap="round" stroke-linejoin="round"/><path d="M330,300L385,300" fill="none" stroke="#0c0c0c" stroke-width="6" stroke-linecap="round" stroke-linejoin="round"/><path d="M352,90Q420,100 480,150" fill="none" stroke="#0c0c0c" stroke-width="5" stroke-linecap="round" stroke-linejoin="round"/><path d="M222,40L222,98" fill="none" stroke="#0c0c0c" stroke-width="7" stroke-linecap="round" stroke-linejoin="round"/><path d="M127,300Q120,380 140,440" fill="none" stroke="#0c0c0c" stroke-width="6" stroke-linecap="round" stroke-linejoin="round"/><path d="M180,160L253,227" fill="none" stroke="#0c0c0c" stroke-width="5" stroke-linecap="round" stroke-linejoin="round"/></g></g></g><circle class="ring" cx="588.2" cy="213.5" r="41.2"/></g>
<g id="c3"><g clip-path="url(#cp3)"><g filter="url(#soft)"><g transform="translate(543 285) scale(0.16760)"><rect width="537" height="537" fill="#fafafa"/><path d="M105,105.4L111.2,94.7M127.2,101.4L155.7,52M149.4,97.3L182.5,40M171.6,93.2L206.9,32.1M188.5,98.4L229.6,27.3M213,90.4L240.4,43M240.3,77.5L247.5,65.1M240,41.7L299.8,25.7M245.2,58.1L337.8,33.3M251.4,74.3L366.6,43.4M266.4,88L390.2,54.9M281.4,101.8L321.9,91M336.7,87L410.3,67.3M82.4,110.3L141.3,88.9M63.4,135.5L176.7,94.3M49.9,158.8L192.6,106.8M40,180.7L191.5,125.5M39.6,199.1L190.3,144.2M50.3,213.5L189.2,163M68.3,225.3L188.1,181.7M96.1,233.5L186.4,200.6M142.7,234.8L154.9,230.4M243.9,75.8L299,130.9M227.3,83.6L299,155.3M210.8,91.4L299,179.6M194.4,99.3L290.9,195.8M191.7,121L274.5,203.8M190.4,143.9L261.4,214.9M189,166.9L248.2,226.1M187.6,189.8L215.6,217.8M406,107L406,128.7M388.8,89.8L388.8,174.1M371.6,87L371.6,200M354.4,87L354.4,198.8M337.2,87L337.2,197M320,92.7L320,195.2M302.8,109.3L302.8,193.4M436,93.3L490.3,157.9M422.7,104.2L509.5,207.6M410.7,116.5L516.2,242.3M403.7,135L517.9,271.1M396.7,153.4L498.4,274.6M389.7,171.8L475.5,274.1M382.7,190.2L452.7,273.7M381,214.9L429.9,273.2M385.2,246.7L395.1,258.5M388.2,89.2L397.8,81.1M400.4,101.4L426.6,79.4M275.7,202.8L379.4,202.8M255.4,220L381.6,220M238.3,237.2L383.9,237.2M232.6,254.4L384.8,254.4M239.8,271.6L370.2,271.6M246.9,288.8L355.6,288.8M254.1,306L304.7,306M23.6,250.2L59.9,219.8M22.7,273.4L74.9,229.6M23.8,294.9L81.4,246.6M26.6,315L83.6,267.2M30.7,334L85.7,287.9M45.7,343.9L82.6,312.9M66.3,349.1L71.9,344.4M245,284.1L245,372M227.8,225.4L227.8,372M210.6,214.7L210.6,372.3M193.4,204L193.4,374.2M176.2,210.2L176.2,376.1M159,226.5L159,378M141.8,234.8L141.8,374.7M124.6,234.3L124.6,365.7M107.4,233.8L107.4,356.7M90.2,233.3L90.2,347.7M52.6,367.4L97,351.3M51,386.3L117.7,362.1M61,401L138.3,372.9M74.4,414.4L149.6,387M87.8,427.8L148.7,405.7M104.7,440L147.8,424.3M203.4,373.1L212,383.3M182.9,375.3L209.9,407.5M162.3,377.6L207.7,431.7M149.5,389.1L205.2,455.5M148.3,414.4L202.5,479M147,439.7L195.5,497.5M147,466.4L152.7,473.2M211.8,385.7L265.7,385.7M210.3,402.9L279.2,402.9M208.8,420.1L292.7,420.1M207.2,437.3L306.2,437.3M205.3,454.5L337.5,454.5M203.3,471.7L335.8,471.7M201.3,488.9L334.1,488.9M218.3,506.1L332.4,506.1M349.1,293.8L351.6,296.3M330,299L348.8,317.9M310.9,304.3L346.1,339.4M366.9,360.3L378.9,372.2M291.8,309.5L369.8,387.5M273.1,315.2L360.7,402.7M259.4,325.8L351.6,417.9M257.3,348L342.5,433.2M255.2,370.2L327.2,442.2M373.6,267.6L401.9,262.6M356.1,288.2L417.8,277.3M350.3,306.7L412.7,295.6M348,324.5L407.7,314M348,342L399.3,332.9M363.3,356.8L389.3,352.2M414.6,288.8L517.3,288.8M409.9,306L515.5,306M399.5,332.5L510.2,332.5M390.6,349.7L505.2,349.7M381.6,366.9L498.8,366.9M383.8,384.1L490.8,384.1M390.7,401.3L481.1,401.3M397.5,418.5L469.5,418.5M404.3,435.7L455.6,435.7M338.7,441.8L379,372M334.6,483.3L387.1,392.4M339.7,508.9L395.2,412.8M364.4,500.5L403.3,433.2M392,487.1L419.2,440M424.5,465.2L439.1,440" fill="none" stroke="#2c2c2c" stroke-width="5.8"/><path d="M80,110L127,87L150,40L233,20L250,73L220,87L193,100L173,93ZM233,20L380,20L420,70L386,87L326,87L299,113L287,107L250,73ZM127,87L173,93L193,100L187,200L150,235L80,233L45,210L20,160L80,110ZM193,100L220,87L250,73L287,107L299,113L299,193L279,200L240,233L187,200ZM299,113L326,87L386,87L412,113L379,200L366,200L299,193ZM412,113L440,90L500,140L530,230L520,275L419,273L386,253L379,200ZM386,87L420,70L440,90L412,113ZM279,200L299,193L366,200L379,200L386,253L352,293L279,313L260,320L232,253L240,233ZM45,210L80,233L87,300L70,350L30,340L10,270ZM80,233L150,235L187,200L240,233L232,253L260,320L255,372L213,372L150,379L87,346L87,300ZM70,350L87,346L150,379L147,440L100,440L40,380ZM150,379L213,372L207,440L200,500L147,470L147,440ZM207,440L213,372L255,372L313,446L339,439L332,510L260,520L200,500ZM260,320L279,313L352,293L346,340L379,372L339,439L313,446L255,372ZM352,293L386,253L419,273L406,320L379,372L346,340ZM419,273L520,275L520,320L479,320L406,320ZM379,372L406,320L479,320L520,320L500,400L459,440L406,440ZM339,439L379,372L406,440L459,440L400,500L332,510Z" fill="none" stroke="#222" stroke-width="4" stroke-linejoin="round"/><path d="M170,113L208,116L218,140L229,160L224,192L200,202L180,190L150,197L125,182L123,160L145,148L160,133Z" fill="#050505" stroke="#050505" stroke-width="5" stroke-linejoin="round"/><path d="M325,83L362,80L381,100L377,132L350,142L325,137L310,115Z" fill="#050505" stroke="#050505" stroke-width="5" stroke-linejoin="round"/><path d="M290,213L332,211L357,235L361,265L336,292L300,295L270,277L264,245Z" fill="#050505" stroke="#050505" stroke-width="5" stroke-linejoin="round"/><path d="M88,293L130,288L172,296L204,315L198,338L160,332L137,337L132,372L110,384L88,362L95,330Z" fill="#050505" stroke="#050505" stroke-width="5" stroke-linejoin="round"/><path d="M258,366L295,378L318,415L304,444L250,444L210,448L220,408L240,385Z" fill="#050505" stroke="#050505" stroke-width="5" stroke-linejoin="round"/><path d="M405,320L440,326L458,315L484,332L476,368L455,384L445,405L412,400L401,370L395,343Z" fill="#050505" stroke="#050505" stroke-width="5" stroke-linejoin="round"/></g></g></g><circle class="ring" cx="588.2" cy="330.1" r="41.2"/></g>
<g id="c4"><g clip-path="url(#cp4)"><g filter="url(#soft)"><g transform="translate(543 405) scale(0.16760)"><rect width="537" height="537" fill="#fbfbfb"/><path d="M208.2,31.8L208.2,81M191.2,36.9L191.2,116.9M174.2,43.3L174.2,115.6M157.2,51.3L157.2,114.3M140.2,60.8L140.2,113M123.2,72.4L123.2,111.7M106.2,86.1L106.2,110.5M283.9,37.4L287,42.9M256.6,24.3L287,76.9M238,26L287,110.9M220.1,29L287,144.9M217.6,58.7L279.7,166.2M209.3,78.3L271,185.2M201,98L262.4,204.2M192.9,118L256.9,228.8M190.7,148.1L214.4,189.1M50.1,158.4L88.7,103.2M51.1,186.6L104.5,110.3M64.2,197.5L124.2,111.8M80.4,204L143.9,113.3M96.6,210.4L163.6,114.8M112.8,216.9L183.3,116.3M129,223.4L191.7,133.9M145.3,229.9L175.6,186.5M144.8,229.7L144.8,241.2M127.8,222.9L127.8,360.8M110.8,216.1L110.8,376.7M93.8,209.3L93.8,392.6M76.8,202.5L76.8,388.5M59.8,195.7L59.8,370.9M42.8,210.6L42.8,353.3M25.8,240L25.8,302.4M186.9,163.4L194.8,163.4M178.6,180.4L207.7,180.4M170.3,197.4L220.6,197.4M162.1,214.4L233.5,214.4M153.8,231.4L246.4,231.4M151.5,234.5L173.8,234.5M139.7,251.5L237.7,251.5M138.6,268.5L210.6,268.5M137.5,285.5L200,285.5M136.4,302.5L200,302.5M135.3,319.5L200,319.5M134.2,336.5L200,336.5M133.2,353.5L200,353.5M175.1,370.5L200,370.5M319.5,275.4L319.5,392.8M302.5,268.1L302.5,399.7M285.5,260.9L285.5,405.5M268.5,253.6L268.5,400.2M251.5,247.4L251.5,395M234.5,252.4L234.5,389.7M217.5,261L217.5,384.4M200.5,279.5L200.5,379.1M285,154.3L287.4,150.3M254.1,241.9L301.6,159.7M267.3,253.1L315.7,169.2M283,259.8L329.9,178.6M298.8,266.5L350.8,176.3M314.5,273.3L372.9,172.1M330.3,280L395.1,167.8M351.5,277.1L407.6,180M375.2,270.2L418.2,195.7M404.9,252.8L428.7,211.5M287,55L328.7,30.9M287,74.6L351.2,37.5M287,94.2L371.4,45.5M287,113.9L389.7,54.6M287,133.5L406.3,64.6M289.5,151.7L414.9,79.3M305.3,162.2L422.6,94.5M321.1,172.7L430.3,109.6M347.7,177L417.6,136.6M500.6,180.7L509.3,229.6M474.8,131.9L491.9,229M453.9,111.6L474.5,228.3M436.9,112.7L457.1,227.7M422.4,128.7L439.8,227M409,150.6L416.5,193.3M503.4,229.4L503.4,321.6M486.4,228.8L486.4,323.2M469.4,228.1L469.4,324.7M452.4,227.5L452.4,325.3M435.4,229.7L435.4,321.9M418.4,242.6L418.4,309.9M401.4,255.4L401.4,287.4M369.5,271.9L392.8,276M335,283L407.8,295.9M335.2,300.3L422.8,315.8M335.3,317.6L452.3,338.2M335.5,334.9L447.3,354.6M335.7,352.2L435.2,369.8M335.8,369.5L420.6,384.4M341.5,387.8L405.9,399.1M508.6,321.1L512.3,324M483.9,323.4L507.7,341.9M459.3,325.7L501.9,359M451.4,341.1L495.1,375.3M446.1,358.6L487.3,390.7M434.2,370.8L478.5,405.5M422.1,382.9L468.8,419.4M410,395L458.2,432.7M399,408L446.7,445.3M399,429.6L434.2,457.1M399,451.2L420.7,468.2M399,472.8L404.7,477.2M363.3,394.7L399,424.6M329.6,388.6L399,446.8M311.8,395.9L399,469M294,403.1L391.3,484.7M288.9,421L376,494.1M292,445.8L359.5,502.5M295.1,470.6L340.7,508.9M298.2,495.4L315.6,510M178.7,409.4L215.3,383.8M135.2,460.6L235.9,390.1M150.1,471L256.4,396.5M164.9,481.3L276.9,402.9M179.7,491.7L288.2,415.7M194.5,502.1L290.6,434.8M210.4,511.7L293,453.9M233.5,516.3L295.4,473M266.1,514.2L297.8,492.1M189.7,375.5L197.2,383M153.1,362.9L187.3,397.1M127.4,361.2L177.4,411.2M115,372.9L167.5,425.4M102.5,384.5L157.6,439.5M90.1,396.1L145.1,451.1M76.9,406.9L124.4,454.4" fill="none" stroke="#a8a8a8" stroke-width="4.6"/><path d="M100,110L193,117L220,53L200,10L120,30L70,90ZM220,53L193,117L190,157L253,240L253,247L262,205L287,150L287,40L250,10L200,10ZM100,110L193,117L190,157L153,233L53,193L40,150L70,90ZM53,193L153,233L140,246L133,356L87,399L30,340L20,250ZM190,157L253,240L153,233ZM153,233L253,240L253,247L222,256L200,280L200,379L133,356L140,246ZM222,256L253,247L335,282L336,386L287,406L200,379L200,280ZM253,247L262,205L287,150L332,180L399,167L439,227L386,267L335,282ZM287,40L287,150L332,180L399,167L432,113L400,50L340,20ZM432,113L399,167L439,227L520,230L520,170L480,110ZM439,227L520,230L520,320L456,326L426,320L386,267ZM335,282L386,267L426,320L456,326L446,359L399,406L336,386ZM446,359L399,406L399,480L460,450L510,370L520,320L456,326ZM336,386L399,406L399,480L350,510L300,510L287,406ZM200,379L287,406L300,510L220,520L133,459L153,446ZM133,356L200,379L153,446L133,459L60,420L87,399Z" fill="none" stroke="#1c1c1c" stroke-width="4" stroke-linejoin="round"/><path d="M356.4,122L345.7,145.8L319,144.4L307.6,122L318.3,98.2L345,99.6Z" fill="#060606" stroke="#060606" stroke-width="5" stroke-linejoin="round"/><path d="M209.5,171.7L190.8,184.5L170.2,173.7L166.1,152.2L177.4,132.6L200.6,133.3L213.6,150.9Z" fill="#060606" stroke="#060606" stroke-width="5" stroke-linejoin="round"/><path d="M479.8,194.4L471.1,206.4L457.2,201.9L454.2,187.6L462.9,175.6L476.8,180.1Z" fill="#060606" stroke="#060606" stroke-width="5" stroke-linejoin="round"/><path d="M365,248.9L342.8,256.8L324.8,241.4L326.1,219.6L342.4,203.3L365.7,209.6L374.4,229.8Z" fill="#060606" stroke="#060606" stroke-width="5" stroke-linejoin="round"/><path d="M149.4,297L128,312.3L104.1,299.2L104.6,275L126,259.7L149.9,272.8Z" fill="#060606" stroke="#060606" stroke-width="5" stroke-linejoin="round"/><path d="M260.3,311L251.6,330.9L229.4,332.6L215.2,317.3L214.4,295.6L233.6,284.4L253.1,292.1Z" fill="#060606" stroke="#060606" stroke-width="5" stroke-linejoin="round"/><path d="M348.1,353.2L332.2,359.8L319.6,348L323.9,332.8L339.8,326.2L352.4,338Z" fill="#060606" stroke="#060606" stroke-width="5" stroke-linejoin="round"/><path d="M483.8,333.3L467.1,349.7L439.5,346.2L426.8,328.6L432.4,308.3L459.4,302.4L480.8,314Z" fill="#060606" stroke="#060606" stroke-width="5" stroke-linejoin="round"/><path d="M151.5,398.6L135.5,401.4L126.8,387.1L134.5,373.4L150.5,370.6L159.2,384.9Z" fill="#060606" stroke="#060606" stroke-width="5" stroke-linejoin="round"/><path d="M255.4,449.3L237.7,463.3L216.4,454.1L210.8,432.9L220.7,412.5L243.9,411.7L258.1,428.3Z" fill="#060606" stroke="#060606" stroke-width="5" stroke-linejoin="round"/><path d="M382,448.8L372.3,463.2L354.9,459.2L350,443.2L359.7,428.8L377.1,432.8Z" fill="#060606" stroke="#060606" stroke-width="5" stroke-linejoin="round"/></g></g></g><circle class="ring" cx="588.2" cy="450.7" r="41.2"/></g>

<!-- labels -->
<text class="b" x="697.1" y="79.8" font-size="19.1" text-anchor="middle">White</text>
<text class="b" x="697.1" y="101.05" font-size="19.1" text-anchor="middle">Cast Iron</text>
<text x="696.8" y="123.55" font-size="14.93" text-anchor="middle">C 3.4, Si 1.8,</text>
<text x="697.2" y="140.55" font-size="14.93" text-anchor="middle">Mn 0.5</text>

<text class="b" x="696.9" y="189.7" font-size="19.1" text-anchor="middle">Grey</text>
<text class="b" x="697.1" y="210.95" font-size="19.1" text-anchor="middle">Cast Iron</text>
<text x="696.8" y="233.45" font-size="14.93" text-anchor="middle">C 3.4, Si 0.7,</text>
<text x="697.2" y="250.45" font-size="14.93" text-anchor="middle">Mn 0.6</text>

<text class="b" x="696.4" y="306.2" font-size="19.1" text-anchor="middle">Malleable</text>
<text class="b" x="698.9" y="327.45" font-size="19.1" text-anchor="middle">Cast Iron</text>
<text x="696.8" y="349.95" font-size="14.93" text-anchor="middle">C 2.5, Si 1.0,</text>
<text x="697.2" y="366.95" font-size="14.93" text-anchor="middle">Mn 0.55</text>

<text class="b" x="697.3" y="426.5" font-size="19.1" text-anchor="middle">Ductile</text>
<text class="b" x="697.1" y="448.1" font-size="19.1" text-anchor="middle">Cast Iron</text>
<text x="696.8" y="465.8" font-size="14.93" text-anchor="middle">C 3.4, P 0.1,</text>
<text x="696.8" y="482.3" font-size="14.93" text-anchor="middle">Mn 0.4, Ni 1.0,</text>
<text x="697.1" y="499" font-size="14.93" text-anchor="middle">Mg 0.06</text>
</svg>
</body>
</html>
